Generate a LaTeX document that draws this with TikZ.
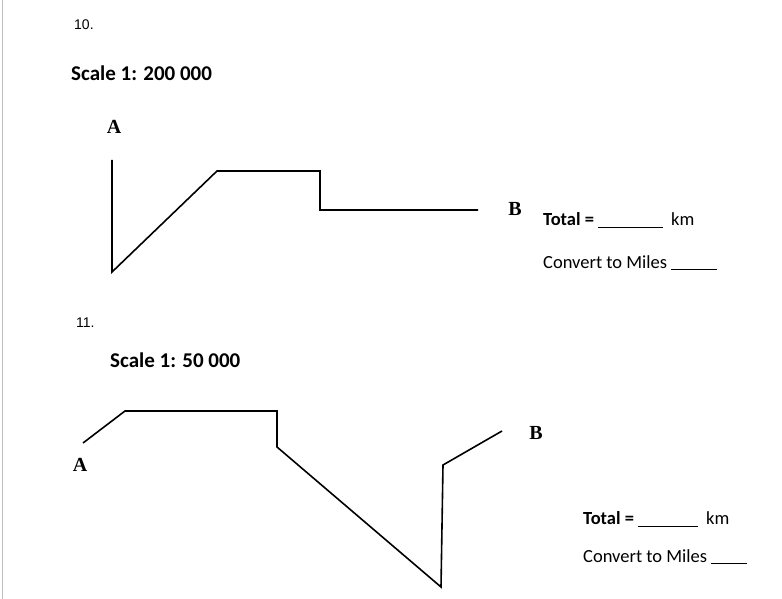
\documentclass[tikz,border=0pt]{standalone}
\usepackage{fontspec}
\setmainfont{Carlito}
\newfontfamily\arialf{Liberation Sans}
\newfontfamily\timesf{Liberation Serif}
\begin{document}
\begin{tikzpicture}[x=1pt,y=-1pt,
  ln/.style={line width=1.6pt,line join=miter},
  lbl/.style={inner sep=0pt,anchor=west},
  num/.style={lbl,font=\arialf\fontsize{14}{16}\selectfont},
  scl/.style={lbl,font=\bfseries\fontsize{21}{24}\selectfont},
  pt/.style={inner sep=0pt,font=\timesf\bfseries\fontsize{20}{23}\selectfont},
  txt/.style={lbl,font=\fontsize{18.5}{22}\selectfont}]
\useasboundingbox (0,0) rectangle (782,599);
\draw[gray!50,line width=1pt] (2,0) -- (2,599);
\node[num] (n10) at (74,25) {10.};
\node[scl] (s1) at (71,73) {Scale 1: 200 000};
\node[pt] (a1) at (114,127) {A};
\node[pt] (b1) at (515,209) {B};
\draw[ln] (112,160) -- (112,272) -- (217,171) -- (320,171) -- (320,210) -- (478,210);
\node[txt] (t1) at (543,220) {\textbf{Total =} \rule[-1.5pt]{65pt}{0.7pt}\hspace{8pt}km};
\node[txt] (c1) at (543,263) {Convert to Miles \rule[-1.5pt]{46pt}{0.7pt}};
\node[num] (n11) at (76,323) {11.};
\node[scl] (s2) at (110,360) {Scale 1: 50 000};
\node[pt] (a2) at (80,465) {A};
\node[pt] (b2) at (536,433) {B};
\draw[ln] (83,443) -- (125,411) -- (277,411) -- (277,447) -- (441,587) -- (443,465) -- (502,431);
\node[txt] (t2) at (583,519) {\textbf{Total =} \rule[-1.5pt]{60pt}{0.7pt}\hspace{8pt}km};
\node[txt] (c2) at (583,557) {Convert to Miles \rule[-1.5pt]{36pt}{0.7pt}};
\end{tikzpicture}
\end{document}
